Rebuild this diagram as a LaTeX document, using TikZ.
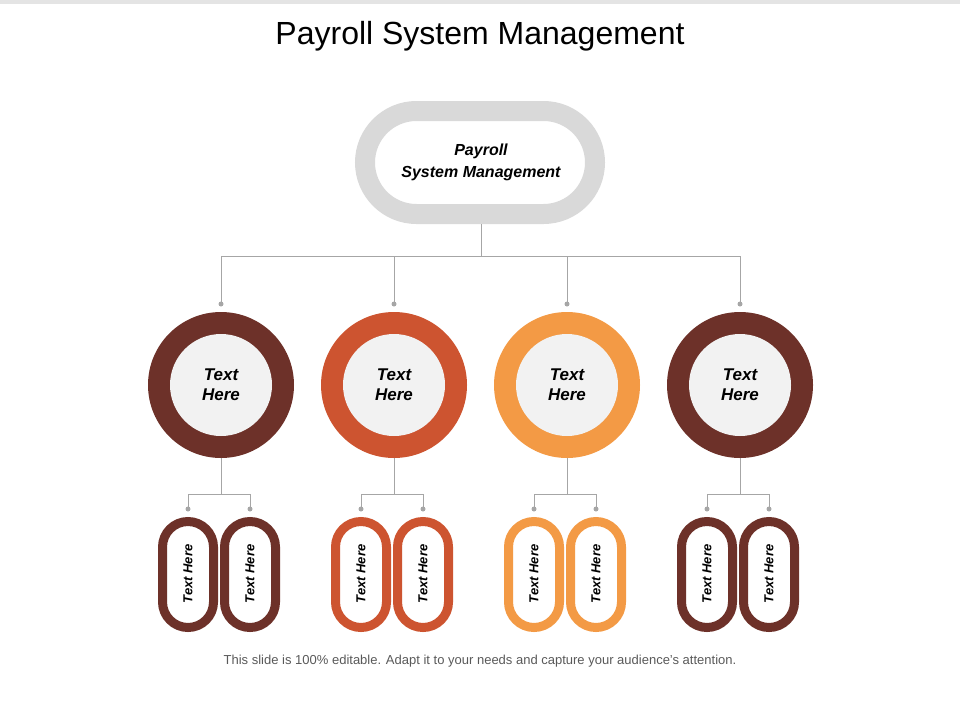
\documentclass[tikz,border=0pt]{standalone}
\usepackage{fontspec}
\setmainfont{Liberation Sans}
\definecolor{cA}{HTML}{6D3129}
\definecolor{cB}{HTML}{CD5430}
\definecolor{cC}{HTML}{F39A45}
\definecolor{gr}{HTML}{D9D9D9}
\definecolor{inn}{HTML}{F2F2F2}
\definecolor{ln}{HTML}{A6A6A6}
\tikzset{x=1pt,y=-1pt,
 conn/.style={draw=ln,line width=0.9pt},
 dot/.style={circle,fill=ln,inner sep=0pt,minimum size=5pt},
 lbl/.style={font=\bfseries\itshape\fontsize{17}{20}\selectfont,align=center},
 plbl/.style={font=\bfseries\itshape\fontsize{13}{15}\selectfont,rotate=90}}
\begin{document}
\begin{tikzpicture}
\useasboundingbox (0,0) rectangle (960,720);
\fill[gr!70] (0,0) rectangle (960,4);
\node[font=\fontsize{32}{36}\selectfont] (title) at (480,36) {Payroll System Management};
\node[font=\fontsize{13}{15}\selectfont,text=black!65] (foot) at (480,661) {This slide is 100\% editable. Adapt it to your needs and capture your audience's attention.};
\draw[gr,line width=20pt,rounded corners=51.5pt] (365,111) rectangle (595,214);
\node[lbl,font=\bfseries\itshape\fontsize{16}{22}\selectfont] (top) at (481,162) {Payroll\\System Management};
\coordinate (tb) at (481,224);
\draw[conn] (tb) -- (481,256);
\draw[conn] (221,256) -- (740,256);
\foreach \x/\c [count=\i] in {221/cA,394/cB,567/cC,740/cA}{
  \draw[conn] (\x,256) -- (\x,304);
  \node[dot] (d\i) at (\x,304) {};
  \fill[\c] (\x,385) circle (73);
  \fill[inn] (\x,385) circle (51);
  \node[lbl] (c\i) at (\x,385) {Text\\Here};
  \draw[conn] (\x,458) -- (\x,494);
  \draw[conn] (\x-33,494) -- (\x+29,494);
  \foreach \dx [count=\j] in {-33,29}{
    \draw[conn] (\x+\dx,494) -- (\x+\dx,509);
    \node[dot] (e\i\j) at (\x+\dx,509) {};
    \draw[\c,line width=9pt,rounded corners=25.5pt,fill=white] (\x+\dx-25.5,521.5) rectangle (\x+\dx+25.5,627.5);
    \node[plbl] (p\i\j) at (\x+\dx,574) {Text Here};
  }
}
\end{tikzpicture}
\end{document}
